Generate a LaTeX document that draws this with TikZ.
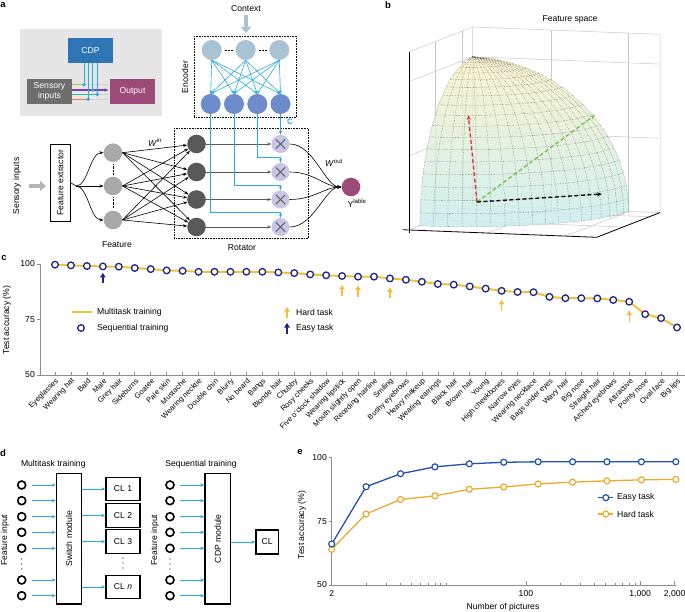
\documentclass[tikz,border=0pt]{standalone}
\usepackage{fontspec}
\setmainfont{Liberation Sans}
\usetikzlibrary{arrows.meta,calc}
\definecolor{insetgray}{HTML}{E6E6E6}
\definecolor{cdpblue}{HTML}{2E75B6}
\definecolor{sensgray}{HTML}{6E6E6E}
\definecolor{outmauve}{HTML}{9C4B78}
\definecolor{lblue}{HTML}{29ABE2}
\definecolor{ctxcol}{HTML}{A9C3D5}
\definecolor{enccol}{HTML}{6E8BCB}
\definecolor{featcol}{HTML}{A9A9A9}
\definecolor{darkcol}{HTML}{585858}
\definecolor{lavcol}{HTML}{C8C6E4}
\definecolor{gold}{HTML}{F5BE3C}
\definecolor{navy}{HTML}{1E2586}
\definecolor{easyblue}{HTML}{2050B0}
\definecolor{hardgold}{HTML}{EEAA2A}
\definecolor{ylwline}{HTML}{C8C83A}
\definecolor{purpline}{HTML}{7B3FB5}
\definecolor{grnline}{HTML}{2EC49A}
\definecolor{orgline}{HTML}{E8803A}
\definecolor{surfY}{HTML}{F8F1C4}
\definecolor{surfC}{HTML}{C6EBEC}
\definecolor{boxgray}{HTML}{C8C8C8}
\definecolor{axgray}{HTML}{8C8C8C}
\definecolor{faint}{HTML}{D2D2D2}
\definecolor{vred}{HTML}{E8262B}
\definecolor{vgreen}{HTML}{72BF44}
\begin{document}
\begin{tikzpicture}[x=1pt,y=-1pt]
\tikzset{
  txt/.style={font=\fontsize{8.6}{10.3}\selectfont, inner sep=0pt},
  ticklab/.style={font=\fontsize{7.5}{9}\selectfont, inner sep=0pt},
  panlab/.style={font=\bfseries\fontsize{9.5}{10}\selectfont, inner sep=0pt},
  neuron/.style={circle, inner sep=0pt, minimum size=18.6pt},
  bignode/.style={circle, inner sep=0pt, minimum size=20pt},
  blk/.style={line width=0.6pt, -{Stealth[length=4pt,width=3pt]}},
  bwire/.style={draw=lblue, line width=0.9pt, -{Stealth[length=4pt,width=3pt]}},
  thinblue/.style={draw=lblue, line width=0.6pt, -{Stealth[length=3.5pt,width=2.8pt]}},
  dotbox/.style={draw, dash pattern=on 0.7pt off 0.9pt, line width=0.9pt, inner sep=0pt},
  flatbox/.style={inner sep=0pt, minimum width=45pt, minimum height=25pt, text=white, font=\fontsize{8.6}{10.3}\selectfont, align=center},
  seqc/.style={circle, draw=navy, line width=1.3pt, fill=white, minimum size=6.6pt, inner sep=0pt},
  hardarr/.style={draw=gold, line width=1.4pt, -{Triangle[length=4.5pt,width=5.5pt]}},
  easyarr/.style={draw=navy, line width=1.4pt, -{Triangle[length=4.5pt,width=5.5pt]}},
  inc/.style={circle, draw, line width=1.6pt, minimum size=8pt, inner sep=0pt},
  modbox/.style={draw, line width=1.4pt, inner sep=0pt},
  clbox/.style={draw, line width=1.4pt, inner sep=0pt, minimum width=34pt, minimum height=23.5pt, font=\fontsize{8.6}{10.3}\selectfont},
  darr/.style={draw=lblue, line width=0.9pt, -{Stealth[length=4pt,width=3.4pt]}},
  ecirc/.style={circle, draw=easyblue, line width=1.2pt, fill=white, minimum size=6pt, inner sep=0pt},
  hcirc/.style={circle, draw=hardgold, line width=1.2pt, fill=white, minimum size=6pt, inner sep=0pt},
  axl/.style={draw=axgray, line width=0.6pt},
  gridl/.style={draw=boxgray, line width=0.5pt},
  surfgrid/.style={draw=black!75, line width=0.3pt, dash pattern=on 0.45pt off 1.1pt},
}
\useasboundingbox (0,0) rectangle (685,612);

%================ PANEL A =================
\node[panlab] (la) at (3,5) {a};
\node[fill=insetgray, minimum width=142pt, minimum height=87pt, inner sep=0pt, anchor=north west] (inset) at (20,29) {};
\node[flatbox, fill=cdpblue] (cdp) at (90.5,50.5) {CDP};
\node[flatbox, fill=sensgray] (sens) at (49.5,91.5) {Sensory\\inputs};
\node[flatbox, fill=outmauve] (outp) at (132.5,91.5) {Output};
\foreach \yy/\xx [count=\i] in {84.7/84, 90/92.7, 94.5/97.3, 99.3/88.3}{
  \coordinate (cs\i) at (72,\yy);
  \coordinate (cd\i) at (\xx,\yy);
  \coordinate (ce\i) at (108.5,\yy);
  \coordinate (cb\i) at (\xx,63);
}
\foreach \i in {1,3,4} \draw[faint, line width=1pt, -{Stealth[length=3pt,width=2.6pt]}] (cd\i) -- (ce\i);
\draw[ylwline, line width=1.3pt] (cs1) -- (cd1);
\draw[grnline, line width=1.3pt] (cs3) -- (cd3);
\draw[orgline, line width=1.3pt] (cs4) -- (cd4);
\draw[purpline, line width=1.3pt, -{Stealth[length=4pt,width=3.5pt]}] (cs2) -- (ce2);
\foreach \i in {1,...,4}{
  \draw[lblue, line width=1pt] (cb\i) -- (cd\i);
  \fill[lblue] (cd\i) circle (1.9);
}

% encoder
\node[txt] (ctxl) at (246,9) {Context};
\coordinate (ctxa) at (246,15);
\coordinate (ctxb) at (246,33);
\draw[ctxcol, line width=3.5pt, -{Triangle[length=6pt,width=10pt]}] (ctxa) -- (ctxb);
\node[dotbox, minimum width=102pt, minimum height=81pt, anchor=north west] (encb) at (194,36) {};
\node[txt, rotate=90] (encl) at (185,77) {Encoder};
\node[bignode, fill=ctxcol] (ctx1) at (211.7,50) {};
\node[bignode, fill=ctxcol] (ctx2) at (245.7,50) {};
\node[bignode, fill=ctxcol] (ctx3) at (279.3,50) {};
\draw[dash pattern=on 0.6pt off 0.8pt, line width=0.6pt, shorten <=3pt, shorten >=3pt] (ctx1) -- (ctx2);
\draw[dash pattern=on 0.6pt off 0.8pt, line width=0.6pt, shorten <=3pt, shorten >=3pt] (ctx2) -- (ctx3);
\node[bignode, fill=enccol] (enc1) at (210.7,104) {};
\node[bignode, fill=enccol] (enc2) at (234,104) {};
\node[bignode, fill=enccol] (enc3) at (257.3,104) {};
\node[bignode, fill=enccol] (enc4) at (280.5,104) {};
\foreach \i in {1,2,3} \foreach \j in {1,...,4} \draw[thinblue] (ctx\i.south) -- (enc\j.north);
\node[font=\bfseries\fontsize{8}{9}\selectfont, text=lblue, inner sep=0pt] (cl) at (290,122) {C};

% left side
\node[txt, rotate=90] (sinp) at (17,186) {Sensory inputs};
\coordinate (ga1) at (29,186);
\coordinate (ga2) at (46,186);
\draw[featcol!85, line width=3.4pt, -{Triangle[length=6pt,width=10pt]}] (ga1) -- (ga2);
\node[draw, line width=0.9pt, minimum width=19.3pt, minimum height=76.7pt, inner sep=0pt] (fe) at (60.35,182.65) {};
\node[txt, rotate=90] (fet) at (fe.center) {Feature extractor};
\node[neuron, fill=featcol] (f1) at (113,152.7) {};
\node[neuron, fill=featcol] (f2) at (113,186) {};
\node[neuron, fill=featcol] (f3) at (113,220) {};
\draw[dash pattern=on 0.6pt off 0.8pt, line width=0.6pt, shorten <=2pt, shorten >=2pt] (f1.south) -- (f2.north);
\draw[dash pattern=on 0.6pt off 0.8pt, line width=0.6pt, shorten <=2pt, shorten >=2pt] (f2.south) -- (f3.north);
\node[txt] (featl) at (117,245) {Feature};
\coordinate (br) at (76,186);
\draw[line width=0.6pt] (fe.east) -- (br);
\draw[blk] (br) .. controls (88,186) and (90,152.7) .. (f1.west);
\draw[blk] (br) -- (f2.west);
\draw[blk] (br) .. controls (88,186) and (90,220) .. (f3.west);

% rotator
\node[dotbox, minimum width=134pt, minimum height=110pt, anchor=north west] (rot) at (174,128) {};
\node[txt] (rotl) at (242,248) {Rotator};
\node[neuron, fill=darkcol] (d1) at (196.5,144) {};
\node[neuron, fill=darkcol] (d2) at (196.5,172) {};
\node[neuron, fill=darkcol] (d3) at (196.5,199.5) {};
\node[neuron, fill=darkcol] (d4) at (196.5,227) {};
\foreach \i in {1,2,3} \foreach \j in {1,...,4} \draw[blk] (f\i.east) -- (d\j);
\node[txt] (win) at (155,142) {\textit{W}\textsuperscript{in}};
\foreach \yy [count=\i] in {144,172,199.5,227}{
  \node[neuron, minimum size=18pt, fill=lavcol] (m\i) at (280.5,\yy) {};
}
\foreach \i in {1,...,4}{
  \draw[blk, darkcol] (d\i) -- (m\i);
  \draw[darkcol, line width=0.8pt] ($(m\i)+(-4.6,-4.6)$) -- ($(m\i)+(4.6,4.6)$);
  \draw[darkcol, line width=0.8pt] ($(m\i)+(-4.6,4.6)$) -- ($(m\i)+(4.6,-4.6)$);
}
\coordinate (r2) at (0,157);
\coordinate (r3) at (0,185);
\coordinate (r4) at (0,212);
\draw[bwire] (enc4.south) -- (m1.north);
\draw[bwire] (enc3.south) -- (enc3.south |- r2) -| (m2.north);
\draw[bwire] (enc2.south) -- (enc2.south |- r3) -| (m3.north);
\draw[bwire] (enc1.south) -- (enc1.south |- r4) -| (m4.north);

% output
\node[neuron, fill=outmauve] (yl) at (351,187) {};
\foreach \i in {1,...,4} \draw[blk, black] (m\i.east) .. controls +(24,0) and +(-16,0) .. (yl.west);
\node[txt] (wout) at (334,163) {\textit{W}\textsuperscript{out}};
\node[txt] (ylab) at (357,203) {Y\textsuperscript{lable}};

%================ PANEL B =================
\node[panlab] (lb) at (388,5) {b};
\node[txt] (fsl) at (570,19) {Feature space};
\coordinate (bO) at (409.3,230);
\begin{scope}[shift={(bO)}, x={(187.4pt,-7.3pt)}, y={(63.3pt,24.7pt)}, z={(0pt,178.3pt)}]
  \draw[gridl] (0,0,1) -- (0,1,1) -- (1,1,1) -- (1,1,0) -- (0,1,0) -- (0,1,1);
  \draw[gridl] (0,0,0) -- (0,1,0);
  \foreach \g in {0.417,0.833}{
    \draw[gridl] (\g,1,0) -- (\g,1,1);
    \draw[gridl] (0,1,\g) -- (1,1,\g);
    \draw[gridl] (0,0,\g) -- (0,1,\g);
    \draw[gridl] (0,\g,0) -- (0,\g,1);
    \draw[gridl] (\g,0,0) -- (\g,1,0);
    \draw[gridl] (0,\g,0) -- (1,\g,0);
  }
  \shade[top color=surfY, bottom color=surfC, fill opacity=0.8]
    plot[domain=0:90, samples=30, variable=\ph] ({0},{1-0.833*sin(\ph)},{0.833*cos(\ph)})
    -- plot[domain=90:0, samples=30, variable=\th] ({0.833*cos(\th)},{1-0.833*sin(\th)},{0})
    -- plot[domain=90:0, samples=30, variable=\ph] ({0.833*sin(\ph)},{1},{0.833*cos(\ph)}) -- cycle;
  \foreach \thet in {0,5,...,90}{
    \draw[surfgrid] plot[domain=0:90, samples=19, variable=\ph] ({0.833*sin(\ph)*cos(\thet)},{1-0.833*sin(\ph)*sin(\thet)},{0.833*cos(\ph)});
  }
  \foreach \phe in {5,10,...,90}{
    \draw[surfgrid] plot[domain=0:90, samples=19, variable=\th] ({0.833*sin(\phe)*cos(\th)},{1-0.833*sin(\phe)*sin(\th)},{0.833*cos(\phe)});
  }
  \draw[black, line width=0.8pt] (0,0,1) -- (0,0,-0.015);
  \draw[black, line width=0.8pt] (-0.035,0,0) -- (1,0,0) -- (1,1,0);
\end{scope}
\coordinate (vo) at (477,202);
\coordinate (vr) at (468.3,115);
\coordinate (vg) at (595,115);
\coordinate (vk) at (602,194);
\draw[vred, line width=1.3pt, dash pattern=on 4pt off 2.5pt, -{Stealth[length=5pt,width=4pt]}] (vo) -- (vr);
\draw[vgreen, line width=1.3pt, dash pattern=on 4pt off 2.5pt, -{Stealth[length=5pt,width=4pt]}] (vo) -- (vg);
\draw[black, line width=1.3pt, dash pattern=on 4pt off 2.5pt, -{Stealth[length=5pt,width=4pt]}] (vo) -- (vk);

%================ PANEL C =================
\node[panlab] (lc) at (4,258) {c};
\coordinate (cax1) at (40,264);
\coordinate (cax2) at (40,375);
\coordinate (cax3) at (685,375);
\draw[axl] (cax1) -- (cax2) -- (cax3);
\foreach \v in {100,75,50}{
  \draw[axl] (37,{264+(100-\v)*2.22}) -- (40,{264+(100-\v)*2.22});
  \node[txt, anchor=east] (cyt\v) at (35,{264+(100-\v)*2.22}) {\v};
}
\node[txt, rotate=90] (cyl) at (7,320) {Test accuracy (\%)};
\foreach \v [count=\i] in {99.7,99.4,99.1,98.9,98.8,98.2,97.7,97.1,96.9,96.5,96.5,96.5,96.5,96.5,96.2,95.9,95.3,94.9,94.6,94.3,94.3,93.5,92.9,92.0,91.0,90.7,89.9,88.9,87.9,87.4,87.3,85.2,84.6,84.6,84.5,83.8,83.0,77.4,75.6,71.4}{
  \coordinate (cp\i) at ({55+(\i-1)*15.95},{264+(100-\v)*2.22});
  \draw[axl] ({55+(\i-1)*15.95},375) -- ({55+(\i-1)*15.95},372);
}
\draw[gold, line width=2pt, line join=round] (cp1) \foreach \i in {2,...,40}{ -- (cp\i)};
\foreach \i in {1,...,40} \node[seqc] (cc\i) at (cp\i) {};
\foreach \l [count=\i] in {Eyeglasses, Wearing hat, Bald, Male, Grey hair, Sideburns, Goatee, Pale skin, Mustache, Wearing necktie, Double chin, Blurry, No beard, Bangs, Blonde hair, Chubby, Rosy cheeks, Five o'clock shadow, Wearing lipstick, Mouth slightly open, Receding hairline, Smiling, Bushy eyebrows, Heavy makeup, Wearing earrings, Black hair, Brown hair, Young, High cheekbones, Narrow eyes, Wearing necklace, Bags under eyes, Wavy hair, Big nose, Straight hair, Arched eyebrows, Attractive, Pointy nose, Oval face, Big lips}{
  \node[ticklab, rotate=45, anchor=east] (xl\i) at ({55+(\i-1)*15.95+2.5},380) {\l};
}
\foreach \i in {19,20,22,29,37} \draw[hardarr] ($(cp\i)+(0,20)$) -- ($(cp\i)+(0,9)$);
\draw[easyarr] ($(cp4)+(0,17)$) -- ($(cp4)+(0,6.5)$);
\coordinate (lg1) at (72,312);
\coordinate (lg2) at (92,312);
\draw[gold, line width=2pt] (lg1) -- (lg2);
\node[txt, anchor=west] (lgt1) at (97,312) {Multitask training};
\node[seqc] (lgc) at (81,328) {};
\node[txt, anchor=west] (lgt2) at (97,328) {Sequential training};
\coordinate (lh1) at (287,318);
\coordinate (lh2) at (287,307);
\draw[hardarr] (lh1) -- (lh2);
\node[txt, anchor=west] (lgt3) at (296,312) {Hard task};
\coordinate (le1) at (287,334);
\coordinate (le2) at (287,323);
\draw[easyarr] (le1) -- (le2);
\node[txt, anchor=west] (lgt4) at (296,328) {Easy task};

%================ PANEL D =================
\node[panlab] (ld) at (3,453) {d};
\node[txt] (mtt) at (53.3,464.3) {Multitask training};
\node[txt] (sqt) at (201,464.3) {Sequential training};
\node[modbox, minimum width=25.3pt, minimum height=130.6pt, anchor=north west] (sw) at (55.7,472.7) {};
\node[txt, rotate=90] (swt) at (sw.center) {Switch module};
\node[modbox, minimum width=25.7pt, minimum height=130.6pt, anchor=north west] (cm) at (204.3,472.7) {};
\node[txt, rotate=90] (cmt) at (cm.center) {CDP module};
\foreach \yy [count=\i] in {485,500.7,516.7,532.3,548.3,580,595.7}{
  \node[inc] (mi\i) at (21.7,\yy) {};
  \coordinate (ma\i) at (31.7,\yy);
  \draw[darr] (ma\i) -- (ma\i -| sw.west);
  \node[inc] (si\i) at (170,\yy) {};
  \coordinate (sa\i) at (180,\yy);
  \draw[darr] (sa\i) -- (sa\i -| cm.west);
}
\foreach \k in {-5,0,5}{
  \fill (21.7,564+\k) circle (0.6);
  \fill (170,564+\k) circle (0.6);
  \fill (123,563+\k) circle (0.6);
}
\node[txt, rotate=90] (fil1) at (5,540) {Feature input};
\node[txt, rotate=90] (fil2) at (155,540) {Feature input};
\node[clbox] (cl1) at (123,489) {CL 1};
\node[clbox] (cl2) at (123,515.5) {CL 2};
\node[clbox] (cl3) at (123,541.5) {CL 3};
\node[clbox] (cln) at (123,587) {CL \textit{n}};
\foreach \c in {cl1,cl2,cl3,cln} \draw[darr] (sw.east |- \c) -- (\c.west);
\node[clbox, minimum width=22.3pt, minimum height=24pt] (clq) at (267.2,542) {CL};
\draw[darr] (cm.east |- clq) -- (clq.west);

%================ PANEL E =================
\node[panlab] (lee) at (300,452) {e};
\coordinate (ea1) at (331.7,457.7);
\coordinate (ea2) at (331.7,585);
\coordinate (ea3) at (676,585);
\draw[axl] (ea1) -- (ea2) -- (ea3);
\foreach \v in {100,75,50}{
  \draw[axl] (328.7,{585-(\v-50)*2.546}) -- (331.7,{585-(\v-50)*2.546});
  \node[txt, anchor=east] (eyt\v) at (327,{585-(\v-50)*2.546}) {\v};
}
\node[txt, rotate=90] (eyl) at (302,525) {Test accuracy (\%)};
\foreach \n in {4,6,...,20} \draw[axl] ({331.7+(log10(\n)-0.30103)*114.3},585) -- ++(0,-2.5);
\foreach \n in {200,300,...,900} \draw[axl] ({331.7+(log10(\n)-0.30103)*114.3},585) -- ++(0,-2.5);
\foreach \n/\t in {2/2,100/100,1000/{1,000},2000/{2,000}}{
  \draw[axl] ({331.7+(log10(\n)-0.30103)*114.3},585) -- ++(0,-4);
  \node[txt, anchor=north] (ext\n) at ({331.7+(log10(\n)-0.30103)*114.3},590) {\t};
}
\node[txt] (exl) at (503,607) {Number of pictures};
\foreach \n/\ve/\vh [count=\i] in {2/66.1/64.0, 4/88.6/77.9, 8/93.7/83.6, 16/96.4/85.0, 32/97.6/87.6, 64/98.2/88.5, 128/98.4/89.7, 256/98.4/90.4, 512/98.4/90.9, 1024/98.4/91.3, 2048/98.4/91.5}{
  \coordinate (ee\i) at ({331.7+(log10(\n)-0.30103)*114.3},{585-(\ve-50)*2.546});
  \coordinate (hh\i) at ({331.7+(log10(\n)-0.30103)*114.3},{585-(\vh-50)*2.546});
}
\draw[hardgold, line width=1.3pt] (hh1) \foreach \i in {2,...,11}{ -- (hh\i)};
\draw[easyblue, line width=1.3pt] (ee1) \foreach \i in {2,...,11}{ -- (ee\i)};
\foreach \i in {1,...,11}{
  \node[hcirc] (hc\i) at (hh\i) {};
  \node[ecirc] (ec\i) at (ee\i) {};
}
\coordinate (el1) at (598.3,497.7);
\coordinate (el2) at (613.3,497.7);
\draw[easyblue, line width=1.3pt] (el1) -- (el2);
\node[ecirc] (elc) at (605.8,497.7) {};
\node[txt, anchor=west] (elt) at (617,497.7) {Easy task};
\coordinate (hl1) at (598.3,514);
\coordinate (hl2) at (613.3,514);
\draw[hardgold, line width=1.3pt] (hl1) -- (hl2);
\node[hcirc] (hlc) at (605.8,514) {};
\node[txt, anchor=west] (hlt) at (617,514) {Hard task};
\end{tikzpicture}
\end{document}
